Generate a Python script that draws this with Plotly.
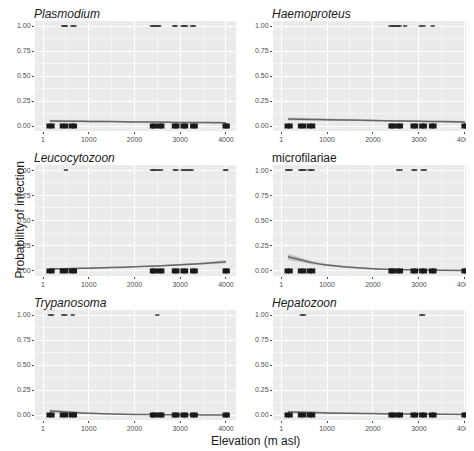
import plotly.graph_objects as go

parasites = ["Plasmodium", "Haemoproteus", "Leucocytozoon", "microfilariae", "Trypanosoma", "Hepatozoon"]
italic = [True, True, True, False, True, True]

neg_sites = [130, 200, 420, 500, 620, 690, 2390, 2440, 2540, 2600, 2870, 2930, 3060, 3120, 3270, 3330, 3980, 4030]
pos_sites = {
    "Plasmodium": [440, 470, 500, 640, 690, 2380, 2420, 2460, 2500, 2540, 2870, 2900, 3050, 3090, 3130, 3260, 3300],
    "Haemoproteus": [2380, 2420, 2460, 2500, 2540, 2580, 2700, 3040, 3100, 3300],
    "Leucocytozoon": [500, 2380, 2420, 2460, 2520, 2580, 2880, 2920, 3050, 3100, 3150, 3200, 3250, 3980, 4010],
    "microfilariae": [130, 170, 210, 420, 450, 480, 510, 620, 650, 690, 2550, 2600, 2880, 2920, 3080, 3130],
    "Trypanosoma": [150, 200, 440, 490, 650, 2500],
    "Hepatozoon": [450, 500, 3050, 3090],
}
curve_x = [150, 700, 1000, 1500, 2000, 2500, 3000, 3500, 4000]
curve_fit = {
    "Plasmodium":    [0.050, 0.048, 0.046, 0.044, 0.041, 0.039, 0.036, 0.034, 0.032],
    "Haemoproteus":  [0.070, 0.066, 0.063, 0.059, 0.055, 0.051, 0.047, 0.044, 0.040],
    "Leucocytozoon": [0.020, 0.025, 0.028, 0.034, 0.041, 0.050, 0.061, 0.074, 0.090],
    "microfilariae": [0.140, 0.080, 0.058, 0.036, 0.022, 0.014, 0.009, 0.006, 0.004],
    "Trypanosoma":   [0.040, 0.025, 0.018, 0.010, 0.006, 0.004, 0.002, 0.001, 0.001],
    "Hepatozoon":    [0.030, 0.024, 0.021, 0.017, 0.014, 0.011, 0.009, 0.007, 0.006],
}
curve_se = {
    "Plasmodium":    [0.012, 0.009, 0.007, 0.005, 0.005, 0.005, 0.006, 0.008, 0.010],
    "Haemoproteus":  [0.016, 0.012, 0.010, 0.008, 0.007, 0.007, 0.008, 0.010, 0.012],
    "Leucocytozoon": [0.008, 0.007, 0.006, 0.005, 0.005, 0.006, 0.008, 0.011, 0.015],
    "microfilariae": [0.030, 0.015, 0.010, 0.007, 0.005, 0.004, 0.003, 0.003, 0.003],
    "Trypanosoma":   [0.015, 0.009, 0.007, 0.005, 0.004, 0.003, 0.002, 0.002, 0.002],
    "Hepatozoon":    [0.012, 0.008, 0.006, 0.005, 0.004, 0.004, 0.004, 0.004, 0.005],
}
x_ticks = [1, 1000, 2000, 3000, 4000]
y_ticks = [0, 0.25, 0.5, 0.75, 1.0]
y_ticklabels = ["0.00", "0.25", "0.50", "0.75", "1.00"]

W, H = 474, 451
ML, MR, MT, MB = 27, 7, 13, 39
PW, PH = W - ML - MR, H - MT - MB
xdoms = [[0, 201 / PW], [238 / PW, 1]]
ydoms = [[1 - 110 / PH, 1], [1 - 255 / PH, 1 - 144 / PH], [0, 1 - 289 / PH]]

fig = go.Figure()
layout = dict(width=W, height=H, margin=dict(l=ML, r=MR, t=MT, b=MB, autoexpand=False),
              paper_bgcolor="white", showlegend=False, annotations=[])
for i, p in enumerate(parasites):
    r, c = divmod(i, 2)
    n = i + 1
    xa = "x" if n == 1 else f"x{n}"
    ya = "y" if n == 1 else f"y{n}"
    lo = [f - s for f, s in zip(curve_fit[p], curve_se[p])]
    hi = [f + s for f, s in zip(curve_fit[p], curve_se[p])]
    fig.add_trace(go.Scatter(x=curve_x, y=lo, mode="lines", line=dict(width=0), xaxis=xa, yaxis=ya, hoverinfo="skip"))
    fig.add_trace(go.Scatter(x=curve_x, y=hi, mode="lines", line=dict(width=0), fill="tonexty",
                             fillcolor="rgba(150,150,150,0.45)", xaxis=xa, yaxis=ya, hoverinfo="skip"))
    fig.add_trace(go.Scatter(x=curve_x, y=curve_fit[p], mode="lines", line=dict(color="#666666", width=1.5),
                             line_shape="spline", xaxis=xa, yaxis=ya))
    fig.add_trace(go.Scatter(x=neg_sites, y=[0] * len(neg_sites), mode="markers",
                             marker=dict(symbol="square", size=5, color="#1a1a1a"), xaxis=xa, yaxis=ya))
    fig.add_trace(go.Scatter(x=pos_sites[p], y=[1] * len(pos_sites[p]), mode="markers",
                             marker=dict(symbol="line-ew", size=3, line=dict(width=1.5, color="#333333")),
                             xaxis=xa, yaxis=ya))
    axn = "" if n == 1 else str(n)
    layout["xaxis" + axn] = dict(domain=xdoms[c], anchor=ya, range=[-175, 4220], tickvals=x_ticks,
                                 ticktext=[str(t) for t in x_ticks], gridcolor="white", showline=False,
                                 zeroline=False, tickfont=dict(size=7, color="#4d4d4d"),
                                 ticks="outside", ticklen=2, tickcolor="#4d4d4d", automargin=False,
                                 minor=dict(showgrid=True, gridcolor="#f5f5f5", dtick=500, tick0=0))
    layout["yaxis" + axn] = dict(domain=ydoms[r], anchor=xa, range=[-0.05, 1.05], tickvals=y_ticks,
                                 ticktext=y_ticklabels, gridcolor="white", zeroline=False,
                                 tickfont=dict(size=7, color="#4d4d4d"), ticks="outside", ticklen=2,
                                 tickcolor="#4d4d4d", automargin=False,
                                 minor=dict(showgrid=True, gridcolor="#f5f5f5", dtick=0.125, tick0=0.125))
    title = f"<i>{p}</i>" if italic[i] else p
    layout["annotations"].append(dict(text=title, xref="paper", yref="paper", x=xdoms[c][0] - 3 / PW,
                                      y=ydoms[r][1] - 2 / PH,
                                      xanchor="left", yanchor="bottom", showarrow=False,
                                      font=dict(size=12, color="#1a1a1a", family="Liberation Sans")))
layout["annotations"].append(dict(text="Probability of infection", xref="paper", yref="paper",
                                  x=(2 - ML) / PW, y=0.5, textangle=-90, showarrow=False,
                                  xanchor="left", yanchor="middle",
                                  font=dict(size=12, color="#1a1a1a", family="Liberation Sans")))
layout["annotations"].append(dict(text="Elevation (m asl)", xref="paper", yref="paper", x=0.5,
                                  y=-21 / PH, showarrow=False, xanchor="center", yanchor="middle",
                                  font=dict(size=12, color="#1a1a1a", family="Liberation Sans")))
fig.update_layout(**layout, plot_bgcolor="#EBEBEB", font=dict(family="Liberation Sans"))
fig.write_html("out.html")
